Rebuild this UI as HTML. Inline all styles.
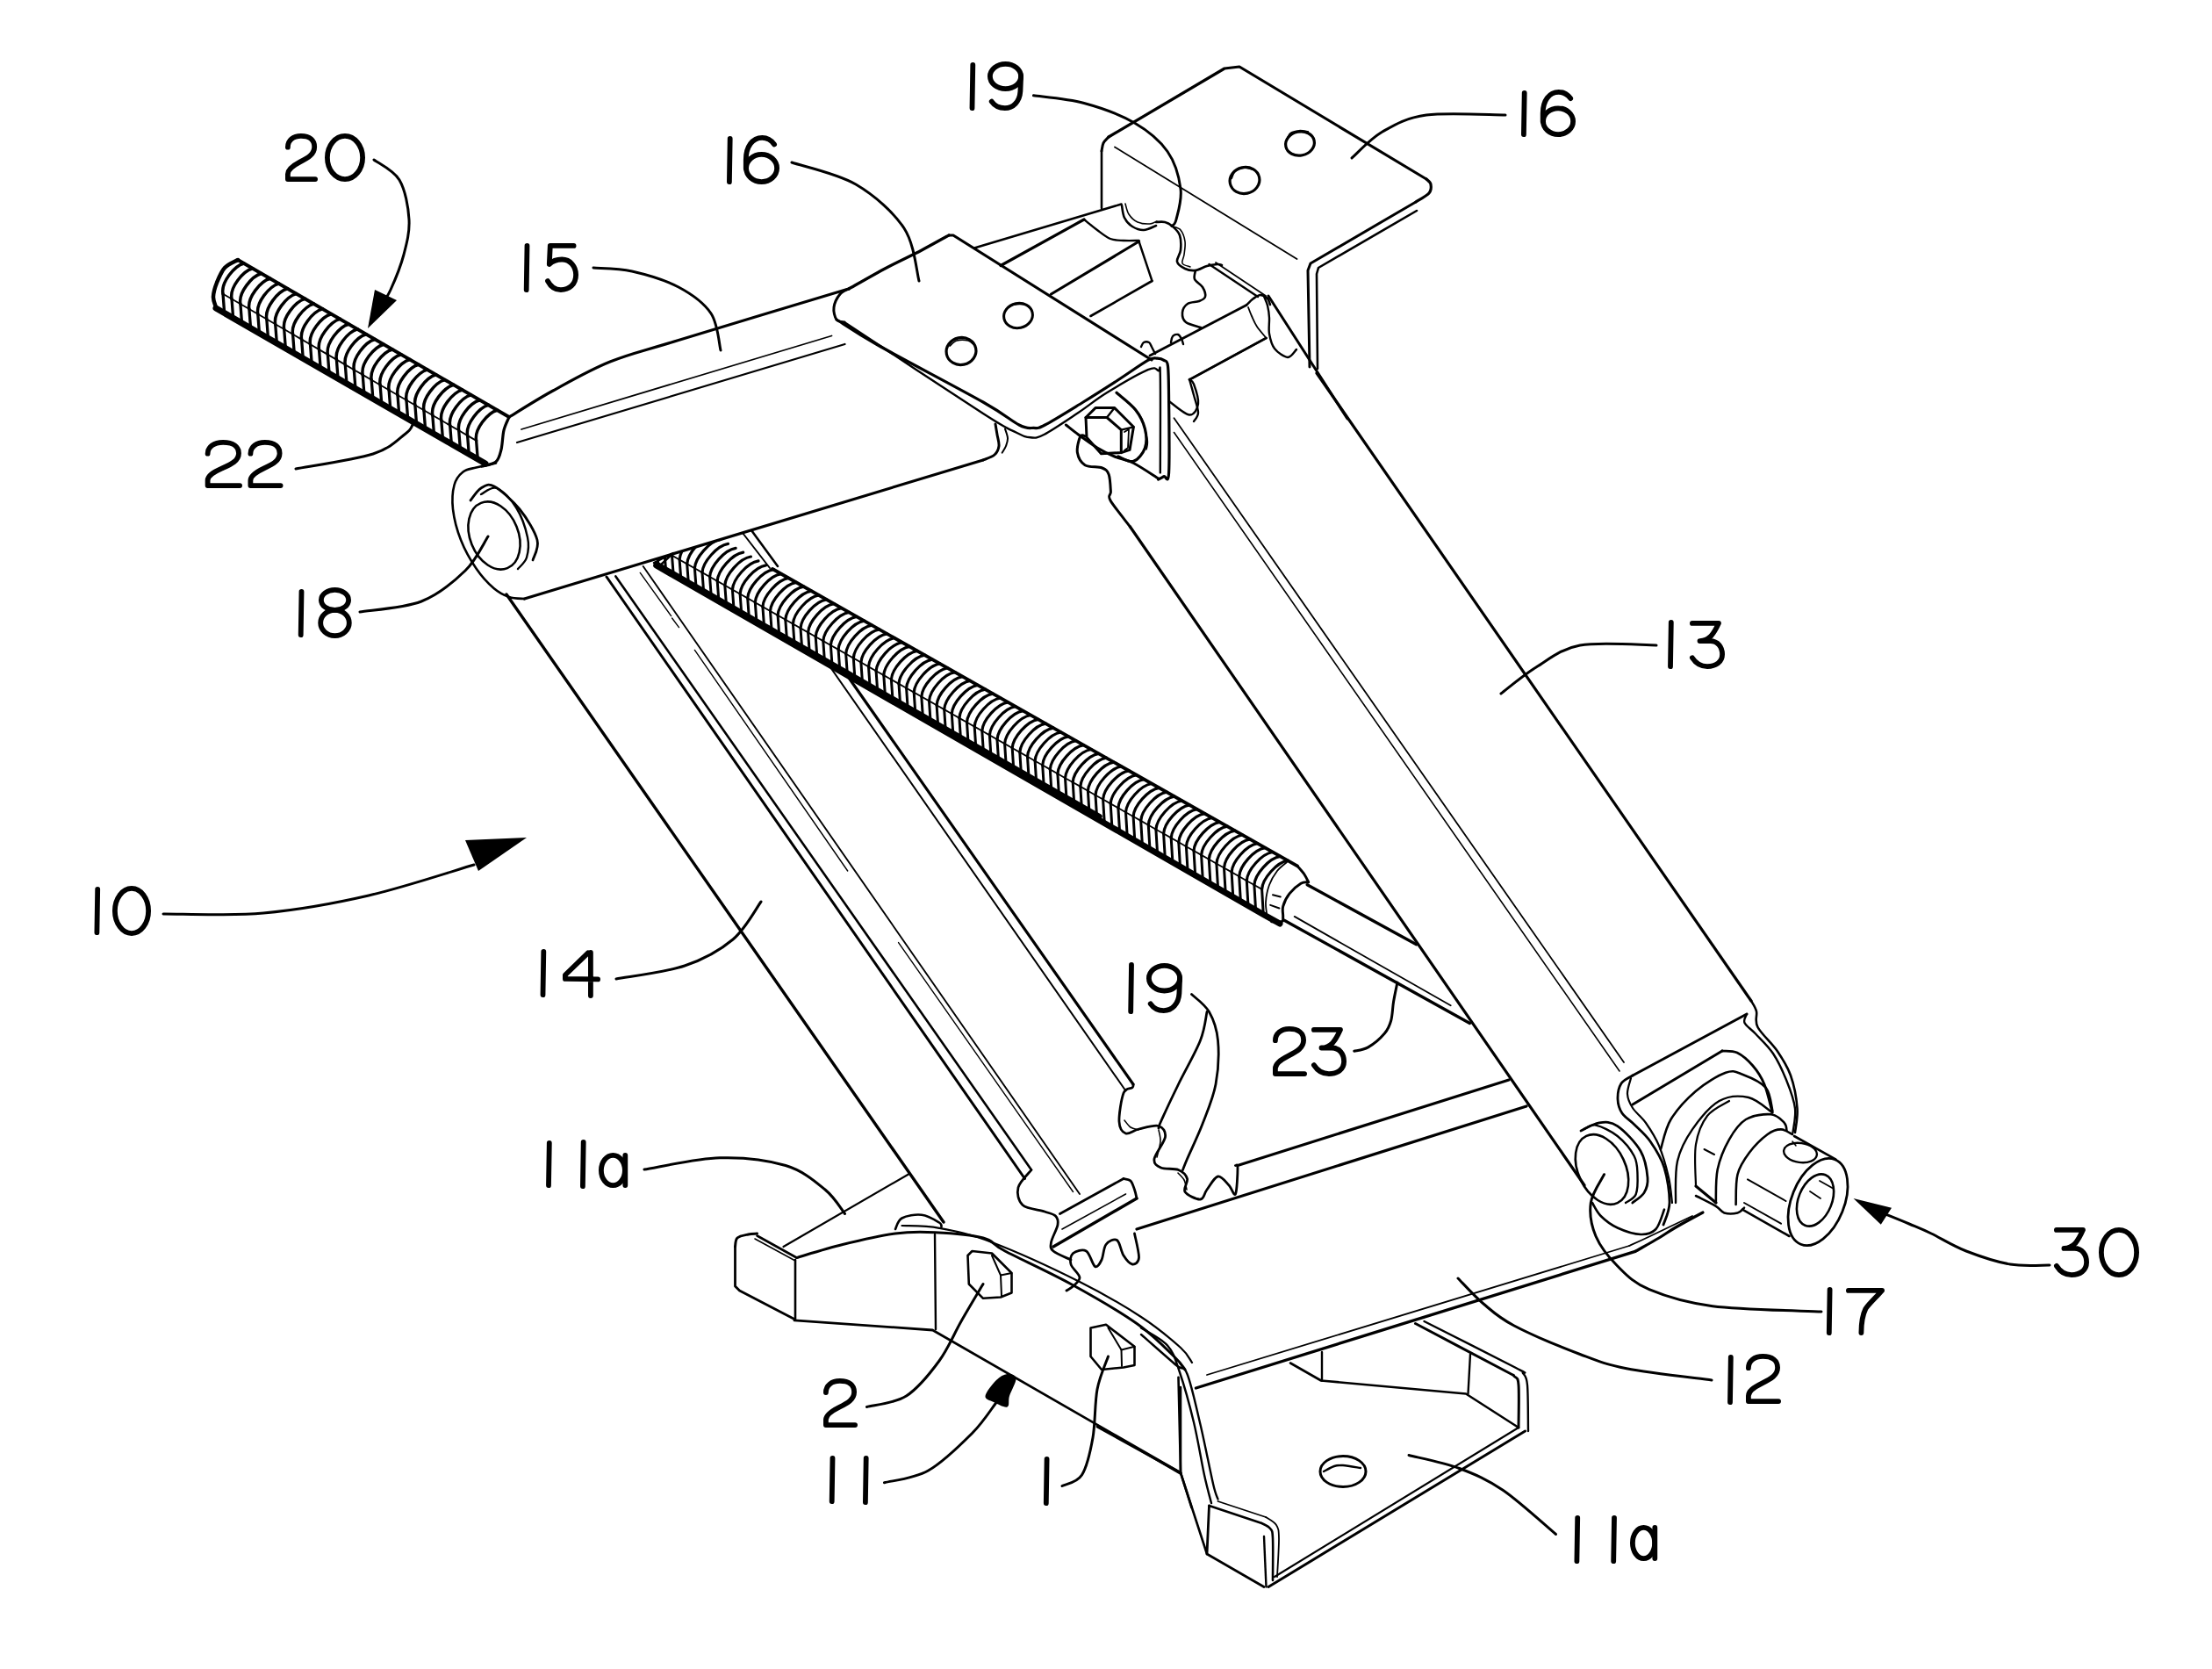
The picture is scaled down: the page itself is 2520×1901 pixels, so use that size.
<!DOCTYPE html>
<html><head><meta charset="utf-8"><style>
html,body{margin:0;padding:0;background:#fff;overflow:hidden}
svg{display:block}
</style></head><body>
<svg xmlns="http://www.w3.org/2000/svg" width="2520" height="1901" viewBox="0 0 2520 1901">
<rect width="2520" height="1901" fill="#fff"/>
<g fill="none" stroke="#000" stroke-linecap="round" stroke-linejoin="round">
<path d="M 327.9,167.7 C 327.9,159.8 334.1,154.9 342.9,154.9 C 352.9,154.9 358.2,159.8 358.2,167.2 C 358.2,175.6 351.3,179.5 341.9,184.4 C 332.6,189.3 327.9,193.3 327.9,198.2 L 327.9,204.1 L 359.1,204.1" stroke-width="5.8"/>
<ellipse cx="393" cy="179.5" rx="20.1" ry="24.6" stroke-width="5.8"/>
<path d="M831.7,157.9 L830.9,207.1" stroke-width="5.8"/>
<path d="M 882.1,164.4 C 878.4,159.4 873.9,156.9 868.4,156.9 C 857.2,156.9 849.8,166.9 849.8,182 L 849.8,192" stroke-width="5.8"/>
<ellipse cx="867.6" cy="191.5" rx="17.5" ry="15.6" stroke-width="5.8"/>
<path d="M600.5,279.9 L599.7,330.1" stroke-width="5.8"/>
<path d="M 653.6,279.9 L 626.8,279.9 L 625.8,301 C 629.6,297 634.3,295.5 640.2,295.5 C 649.9,295.5 656.1,304 656.1,313 C 656.1,324.1 648.3,330.1 638.9,330.1 C 632.7,330.1 627.4,326.6 624,320.1" stroke-width="5.8"/>
<path d="M 236.6,516.7 C 236.6,508.8 243.9,503.9 254.1,503.9 C 265.8,503.9 272,508.8 272,516.2 C 272,524.6 264,528.5 253,533.4 C 242.1,538.3 236.6,542.3 236.6,547.2 L 236.6,553.1 L 273.1,553.1" stroke-width="5.8"/>
<path d="M 285.4,516.7 C 285.4,508.8 292.2,503.9 301.8,503.9 C 312.8,503.9 318.6,508.8 318.6,516.2 C 318.6,524.6 311.1,528.5 300.8,533.4 C 290.5,538.3 285.4,542.3 285.4,547.2 L 285.4,553.1 L 319.6,553.1" stroke-width="5.8"/>
<path d="M343.5,673.9 L342.7,723.1" stroke-width="5.8"/>
<ellipse cx="381.5" cy="683.4" rx="15.6" ry="11.5" stroke-width="5.8"/>
<ellipse cx="381.5" cy="709.5" rx="16.3" ry="14.6" stroke-width="5.8"/>
<path d="M1108.3,73.9 L1107.5,123.1" stroke-width="5.8"/>
<path d="M 1163.1,87 L 1162.4,104 C 1161.7,115.6 1154.3,123.1 1144.8,123.1 C 1138.5,123.1 1133.2,120.6 1129.7,115.6" stroke-width="5.8"/>
<ellipse cx="1145.5" cy="87" rx="17.6" ry="14.1" stroke-width="5.8"/>
<path d="M1736.7,105.9 L1735.9,153.1" stroke-width="5.8"/>
<path d="M 1789.2,112.1 C 1785.6,107.3 1781.2,104.9 1775.8,104.9 C 1765,104.9 1757.7,114.5 1757.7,129 L 1757.7,138.6" stroke-width="5.8"/>
<ellipse cx="1775.1" cy="138.2" rx="17" ry="14.9" stroke-width="5.8"/>
<path d="M1903.8,708.9 L1903,759.1" stroke-width="5.8"/>
<path d="M 1927.9,709.9 L 1958,709.9 C 1955.3,715.8 1952.5,720.7 1949.1,724.7 C 1945,728.6 1940.9,730.1 1936.5,730.1 L 1948.4,730.1 C 1957,730.1 1962.1,737 1962.1,745.3 C 1962.1,754.2 1954.6,759.1 1945,759.1 C 1938.2,759.1 1932,755.7 1927.9,749.3" stroke-width="5.8"/>
<path d="M111.2,1012.9 L110.4,1062.1" stroke-width="5.8"/>
<ellipse cx="150" cy="1037.5" rx="19.1" ry="25.6" stroke-width="5.8"/>
<path d="M619.3,1083.9 L618.5,1133.1" stroke-width="5.8"/>
<path d="M 672.9,1084.9 L 672.9,1134.1 M 669.9,1085.4 L 643.9,1110.5 L 643.9,1114.9 L 681.1,1115.4" stroke-width="5.8"/>
<path d="M625.8,1301.9 L625,1350.1" stroke-width="5.8"/>
<path d="M664.7,1300.9 L663.9,1351.1" stroke-width="5.8"/>
<path d="M 712.3,1315.9 L 712.3,1350.1" stroke-width="5.8"/>
<ellipse cx="698.4" cy="1333" rx="13.5" ry="17.1" stroke-width="5.8"/>
<path d="M1289,1098.9 L1288.2,1152.1" stroke-width="5.8"/>
<path d="M 1344.1,1114.2 L 1343.4,1131.6 C 1342.7,1143.4 1335.3,1151.1 1325.8,1151.1 C 1319.5,1151.1 1314.2,1148.5 1310.7,1143.4" stroke-width="5.8"/>
<ellipse cx="1326.5" cy="1114.2" rx="17.6" ry="14.3" stroke-width="5.8"/>
<path d="M 1452.9,1185.2 C 1452.9,1177 1459.5,1171.9 1468.8,1171.9 C 1479.5,1171.9 1485.1,1177 1485.1,1184.7 C 1485.1,1193.4 1477.8,1197.5 1467.8,1202.6 C 1457.9,1207.7 1452.9,1211.8 1452.9,1217 L 1452.9,1223.1 L 1486.1,1223.1" stroke-width="5.8"/>
<path d="M 1496.9,1172.9 L 1527,1172.9 C 1524.3,1178.9 1521.5,1183.9 1518.1,1188 C 1514,1192 1509.9,1193.5 1505.5,1193.5 L 1517.4,1193.5 C 1526,1193.5 1531.1,1200.5 1531.1,1209 C 1531.1,1218.1 1523.6,1223.1 1514,1223.1 C 1507.2,1223.1 1501,1219.6 1496.9,1213.1" stroke-width="5.8"/>
<path d="M 940.9,1586 C 940.9,1577.9 947.5,1572.9 956.8,1572.9 C 967.5,1572.9 973.1,1577.9 973.1,1585.5 C 973.1,1594 965.8,1598 955.8,1603 C 945.9,1608 940.9,1612.1 940.9,1617.1 L 940.9,1623.1 L 974.1,1623.1" stroke-width="5.8"/>
<path d="M948.5,1660.9 L947.7,1710.1" stroke-width="5.8"/>
<path d="M986.7,1660.9 L985.9,1711.1" stroke-width="5.8"/>
<path d="M1192.6,1661.9 L1191.8,1712.1" stroke-width="5.8"/>
<path d="M1797.2,1728.9 L1796.4,1778.1" stroke-width="5.8"/>
<path d="M1839,1728.9 L1838.2,1778.1" stroke-width="5.8"/>
<path d="M 1885.3,1739.9 L 1885.3,1775.1" stroke-width="5.8"/>
<ellipse cx="1872.5" cy="1757.5" rx="12.6" ry="17.6" stroke-width="5.8"/>
<path d="M1971.8,1545.9 L1971,1597.1" stroke-width="5.8"/>
<path d="M 1991.9,1558.2 C 1991.9,1550 1998.7,1544.9 2008.3,1544.9 C 2019.3,1544.9 2025.1,1550 2025.1,1557.7 C 2025.1,1566.4 2017.5,1570.5 2007.3,1575.6 C 1997,1580.7 1991.9,1584.8 1991.9,1590 L 1991.9,1596.1 L 2026.1,1596.1" stroke-width="5.8"/>
<path d="M2084.6,1468.9 L2083.8,1518.1" stroke-width="5.8"/>
<path d="M 2105.9,1469.9 L 2144.1,1469.9 C 2138.4,1476.6 2130.3,1483.9 2125.4,1490.6 C 2121.6,1498.3 2120.4,1507.5 2120.4,1518.1" stroke-width="5.8"/>
<path d="M 2342.9,1400.9 L 2373,1400.9 C 2370.3,1407 2367.5,1412.2 2364.1,1416.3 C 2360,1420.4 2355.9,1421.9 2351.4,1421.9 L 2363.4,1421.9 C 2372,1421.9 2377.1,1429.1 2377.1,1437.8 C 2377.1,1447 2369.6,1452.1 2360,1452.1 C 2353.2,1452.1 2347,1448.5 2342.9,1441.9" stroke-width="5.8"/>
<ellipse cx="2414" cy="1426.5" rx="20.1" ry="25.6" stroke-width="5.8"/>
<path d="M277.9,300 C267,302.9 251.5,321.7 254,334.7 M287.9,305.8 C276.9,308.7 261.4,327.4 264,340.5 M297.8,311.5 C286.9,314.5 271.4,333.2 273.9,346.2 M307.8,317.3 C296.8,320.2 281.4,339 283.9,352 M317.7,323.1 C306.8,326 291.3,344.7 293.8,357.8 M327.7,328.8 C316.7,331.7 301.3,350.5 303.8,363.5 M337.6,334.6 C326.7,337.5 311.2,356.3 313.7,369.3 M347.6,340.4 C336.6,343.3 321.2,362 323.7,375 M357.5,346.1 C346.6,349 331.1,367.8 333.6,380.8 M367.5,351.9 C356.5,354.8 341.1,373.6 343.6,386.6 M377.4,357.7 C366.5,360.6 351,379.3 353.5,392.3 M387.4,363.4 C376.5,366.3 361,385.1 363.5,398.1 M397.3,369.2 C386.4,372.1 370.9,390.9 373.4,403.9 M407.3,374.9 C396.4,377.9 380.9,396.6 383.4,409.6 M417.2,380.7 C406.3,383.6 390.8,402.4 393.3,415.4 M427.2,386.5 C416.3,389.4 400.8,408.2 403.3,421.2 M437.1,392.2 C426.2,395.2 410.7,413.9 413.2,426.9 M447.1,398 C436.2,400.9 420.7,419.7 423.2,432.7 M457,403.8 C446.1,406.7 430.6,425.4 433.1,438.5 M467,409.5 C456.1,412.4 440.6,431.2 443.1,444.2 M476.9,415.3 C466,418.2 450.5,437 453,450 M486.9,421.1 C476,424 460.5,442.7 463,455.8 M496.8,426.8 C485.9,429.7 470.4,448.5 472.9,461.5 M506.8,432.6 C495.9,435.5 480.4,454.3 482.9,467.3 M516.7,438.4 C505.8,441.3 490.3,460 492.8,473 M526.7,444.1 C515.8,447 500.3,465.8 502.8,478.8 M536.6,449.9 C525.7,452.8 510.2,471.6 512.7,484.6 M546.6,455.7 C535.7,458.6 520.2,477.3 522.7,490.3 M556.5,461.4 C545.6,464.3 530.1,483.1 532.6,496.1 M566.5,467.2 C555.6,470.1 540.1,488.9 542.6,501.9 " stroke-width="3.5"/>
<path d="M254,334.7 L255.5,354.6 M264,340.5 L265.5,360.4 M273.9,346.2 L275.4,366.1 M283.9,352 L285.4,371.8 M293.8,357.8 L295.3,377.6 M303.8,363.5 L305.3,383.3 M313.7,369.3 L315.2,389 M323.7,375 L325.2,394.8 M333.6,380.8 L335.1,400.5 M343.6,386.6 L345.1,406.3 M353.5,392.3 L355,412 M363.5,398.1 L365,417.7 M373.4,403.9 L374.9,423.5 M383.4,409.6 L384.9,429.2 M393.3,415.4 L394.8,434.9 M403.3,421.2 L404.8,440.7 M413.2,426.9 L414.7,446.4 M423.2,432.7 L424.7,452.2 M433.1,438.5 L434.6,457.9 M443.1,444.2 L444.6,463.6 M453,450 L454.5,469.4 M463,455.8 L464.5,475.1 M472.9,461.5 L474.4,480.8 M482.9,467.3 L484.4,486.6 M492.8,473 L494.3,492.3 M502.8,478.8 L504.3,498.1 M512.7,484.6 L514.2,503.8 M522.7,490.3 L524.2,509.5 M532.6,496.1 L534.1,515.3 M542.6,501.9 L544.1,521 " stroke-width="3.3"/>
<path d="M254,334.7 L264,340.5 M264,340.5 L273.9,346.2 M273.9,346.2 L283.9,352 M283.9,352 L293.8,357.8 M293.8,357.8 L303.8,363.5 M303.8,363.5 L313.7,369.3 M313.7,369.3 L323.7,375 M323.7,375 L333.6,380.8 M333.6,380.8 L343.6,386.6 M343.6,386.6 L353.5,392.3 M353.5,392.3 L363.5,398.1 M363.5,398.1 L373.4,403.9 M373.4,403.9 L383.4,409.6 M383.4,409.6 L393.3,415.4 M393.3,415.4 L403.3,421.2 M403.3,421.2 L413.2,426.9 M413.2,426.9 L423.2,432.7 M423.2,432.7 L433.1,438.5 M433.1,438.5 L443.1,444.2 M443.1,444.2 L453,450 M453,450 L463,455.8 M463,455.8 L472.9,461.5 M472.9,461.5 L482.9,467.3 M482.9,467.3 L492.8,473 M492.8,473 L502.8,478.8 M502.8,478.8 L512.7,484.6 M512.7,484.6 L522.7,490.3 M522.7,490.3 L532.6,496.1 M532.6,496.1 L542.6,501.9 " stroke-width="1.8"/>
<path d="M271,296 L580,475" stroke-width="3.8"/>
<path d="M246,351 L553,528" stroke-width="7"/>
<path d="M271,296 C268.5,297.5 260,300.7 256,305 C252,309.3 249.2,316.5 247,322 C244.8,327.5 243.2,333.3 243,338 C242.8,342.7 245.5,348 246,350" stroke-width="4.5"/>
<path d="M580,475 C579,477.5 575.5,483.8 574,490 C572.5,496.2 572.5,506 571,512 C569.5,518 568.7,522.8 565,526 C561.3,529.2 551.7,530.2 549,531" stroke-width="3.2"/>
<path d="M580,475 C588.3,470 610.8,455.5 630,445 C649.2,434.5 671.2,421.6 695,412 C718.8,402.4 727.6,401.4 773,387.5 C818.4,373.6 935.1,338.5 967.5,328.8" stroke-width="3.2"/>
<path d="M594,489 L947.5,382.5" stroke-width="1.8"/>
<path d="M589,504 L962.5,392" stroke-width="2.2"/>
<path d="M565,527.5 C561.2,528.3 548.8,530.8 542.5,532.5 C536.2,534.2 531.7,534.2 527.5,537.5 C523.3,540.8 519.4,545.4 517.5,552.5 C515.6,559.6 514.8,569.6 516,580 C517.2,590.4 520.6,603.8 525,615 C529.4,626.2 536.2,638.3 542.5,647.5 C548.8,656.7 556.2,664.6 562.5,670 C568.8,675.4 574.2,678 580,680 C585.8,682 594.6,681.7 597.5,682" stroke-width="2.6"/>
<path d="M597.5,682 L1120,524" stroke-width="3.2"/>
<path d="M1120,524 C1122.2,523 1130,520.7 1133,518 C1136,515.3 1137.5,511.8 1138,508 C1138.5,504.2 1136.7,499.2 1136,495 C1135.3,490.8 1134.3,485 1134,483" stroke-width="3"/>
<path d="M1145,488.5 C1145.5,490.2 1147.8,495.8 1148,499 C1148.2,502.2 1147,505.2 1146,508 C1145,510.8 1142.4,514.3 1141.7,515.6" stroke-width="2"/>
<ellipse cx="563" cy="610" rx="27.5" ry="40" transform="rotate(-22 563 610)" stroke-width="2.6"/>
<path d="M548,563 C551,561.8 559.3,553.5 566,556 C572.7,558.5 582.2,568.7 588,578 C593.8,587.3 599,602.5 601,612 C603,621.5 601.8,629 600,635 C598.2,641 591.7,645.8 590,648" stroke-width="2.4"/>
<path d="M536,570 C538,567.7 543.5,558.7 548,556 C552.5,553.3 555.7,550 563,554 C570.3,558 583.8,569.8 592,580 C600.2,590.2 609.5,605.3 612,615 C614.5,624.7 607.8,634.2 607,638" stroke-width="2.8"/>
<path d="M577,677 L1075,1392" stroke-width="3.4"/>
<path d="M691,657 L1167.5,1342.5" stroke-width="3"/>
<path d="M701.4,656.4 L1175,1332.5" stroke-width="2.6"/>
<path d="M732.7,645 L1230,1360" stroke-width="1.9"/>
<path d="M729.3,652.4 L764.6,701.6" stroke-width="1.4"/>
<path d="M765.6,704 L773.5,714.6" stroke-width="1.4"/>
<path d="M791.4,740.4 L965.7,992" stroke-width="1.4"/>
<path d="M1023.6,1073.6 L1222.5,1357.5" stroke-width="1.4"/>
<path d="M747.7,642 L1253,930" stroke-width="5.5"/>
<path d="M967.5,328.8 C974.6,324.8 996.2,312.3 1010,305 C1023.8,297.7 1038.2,291.2 1050,285 C1061.8,278.8 1075.8,270.8 1081,268" stroke-width="3.4"/>
<path d="M1081,268 L1086,268 L1312,410" stroke-width="3.2"/>
<path d="M967.5,328.8 C965.8,329.8 959.9,331.5 957,335 C954.1,338.5 950.7,345.2 950,350 C949.3,354.8 951,361.2 953,364 C955,366.8 960.5,366.5 962,367" stroke-width="3"/>
<path d="M953,364 C960.8,368.8 972.2,377.3 1000,393 C1027.8,408.7 1093.2,442.8 1120,458 C1146.8,473.2 1151.4,479.1 1161,484 C1170.6,488.9 1172.6,487.4 1177.5,487.4 C1182.4,487.4 1181.1,488.9 1190.5,484 C1199.9,479.1 1220.4,466.3 1234,458 C1247.6,449.7 1259.7,441.9 1272,434 C1284.3,426.1 1300,414.7 1307.7,410.4 C1315.5,406.1 1315.5,408.2 1318.5,408.2 C1321.5,408.2 1324,408.9 1326,410.4 C1328,411.9 1329.6,409.4 1330.5,417 C1331.4,424.6 1331.4,435.8 1331.6,456 C1331.8,476.2 1332.5,523.9 1331.6,538.4 C1330.7,552.9 1328,541.4 1326,542.7 C1324,544 1320.7,545.5 1319.6,546" stroke-width="3.2"/>
<path d="M962,367 C988.3,384.3 1087.3,450 1120,471 C1152.7,492 1149,488.2 1158,492.8 C1167,497.4 1168.8,497.9 1174,498.3 C1179.2,498.7 1180.3,499.7 1189.4,495 C1198.5,490.3 1216.6,477.9 1228.5,470 C1240.4,462.1 1247.8,455.4 1261,447.3 C1274.2,439.2 1297.9,425.4 1307.7,421.2 C1317.5,417 1317.2,421 1319.6,422.3 C1321.9,423.6 1321.4,409.5 1321.8,428.8 C1322.2,448.1 1321.8,520.1 1321.8,538.4" stroke-width="2.4"/>
<path d="M1214.4,484 C1216.8,485.8 1222.6,490.7 1228.5,495 C1234.4,499.3 1243.1,505.8 1250,510 C1256.9,514.2 1262.8,517.1 1269.7,520 C1276.6,522.9 1283.1,523.3 1291.4,527.5 C1299.7,531.7 1314.9,542.1 1319.6,545" stroke-width="3"/>
<ellipse cx="1160" cy="359.5" rx="16.5" ry="14" transform="rotate(-12 1160 359.5)" stroke-width="3"/>
<path d="M1147,352 C1148.3,351.2 1151.5,347.8 1155,347 C1158.5,346.2 1164.7,346.2 1168,347 C1171.3,347.8 1173.8,351.2 1175,352" stroke-width="1.8"/>
<ellipse cx="1095" cy="400" rx="17" ry="15.5" transform="rotate(-12 1095 400)" stroke-width="3.2"/>
<path d="M1082,394 C1083.3,393 1086.5,389 1090,388 C1093.5,387 1099.7,387.2 1103,388 C1106.3,388.8 1108.8,392.2 1110,393" stroke-width="1.8"/>
<path d="M1255,172 C1255.3,170.5 1255.7,165.7 1257,163 C1258.3,160.3 1262,157.2 1263,156" stroke-width="3"/>
<path d="M1263,156 L1395,78 L1412,76 L1625,204" stroke-width="3.2"/>
<path d="M1625,204 C1625.8,205 1629.5,207.3 1630,210 C1630.5,212.7 1630.8,216.7 1628,220 C1625.2,223.3 1615.5,228.3 1613,230" stroke-width="3.2"/>
<path d="M1270,167.5 L1477.5,295" stroke-width="1.8"/>
<path d="M1255,172 L1255,237" stroke-width="2.6"/>
<path d="M1613,230 L1493,300 L1490,308 L1492,418" stroke-width="3"/>
<path d="M1614,240 L1502,305 L1500,312 L1501,420" stroke-width="2.6"/>
<ellipse cx="1481" cy="163.5" rx="16.5" ry="13.5" transform="rotate(-12 1481 163.5)" stroke-width="3.2"/>
<path d="M1466,160 C1466.7,158.7 1467.7,153.8 1470,152 C1472.3,150.2 1476.7,149.3 1480,149 C1483.3,148.7 1488.3,149.8 1490,150" stroke-width="2.2"/>
<ellipse cx="1418" cy="205.5" rx="17" ry="15" transform="rotate(-12 1418 205.5)" stroke-width="3.2"/>
<path d="M1403,203 C1403.7,201.7 1404.7,197 1407,195 C1409.3,193 1413.5,191.3 1417,191 C1420.5,190.7 1426.2,192.7 1428,193" stroke-width="2.2"/>
<path d="M1278,234 C1278.5,236.3 1279,244 1281,248 C1283,252 1286.3,255.7 1290,258 C1293.7,260.3 1298.5,262.2 1303,262 C1307.5,261.8 1314.7,257.8 1317,257" stroke-width="2.6"/>
<path d="M1282,232 C1282.7,234 1283.7,240.5 1286,244 C1288.3,247.5 1292,251.2 1296,253 C1300,254.8 1306.3,255.2 1310,255 C1313.7,254.8 1316.7,252.5 1318,252" stroke-width="1.6"/>
<path d="M1317,253 C1318.7,253 1323.8,252.2 1327,253 C1330.2,253.8 1333.2,255.5 1336,258 C1338.8,260.5 1342.5,263.5 1344,268 C1345.5,272.5 1345.5,280 1345,285 C1344.5,290 1340.2,294.5 1341,298 C1341.8,301.5 1346.5,304.3 1350,306 C1353.5,307.7 1357.8,308.5 1362,308 C1366.2,307.5 1370.8,304.2 1375,303 C1379.2,301.8 1384.2,301.2 1387,301 C1389.8,300.8 1391.2,301.8 1392,302" stroke-width="2.6"/>
<path d="M1336,258 C1337.5,258.7 1342.7,259.2 1345,262 C1347.3,264.8 1349.3,270.3 1350,275 C1350.7,279.7 1349.5,285.8 1349,290 C1348.5,294.2 1345.8,297.7 1347,300 C1348.2,302.3 1354.5,303.3 1356,304" stroke-width="1.6"/>
<path d="M1362,308 C1361.8,309.7 1359.7,314.8 1361,318 C1362.3,321.2 1368,323.7 1370,327 C1372,330.3 1373.7,335.3 1373,338 C1372.3,340.7 1369.3,341.7 1366,343 C1362.7,344.3 1356.2,343.8 1353,346 C1349.8,348.2 1347.3,352.5 1347,356 C1346.7,359.5 1347.5,364.2 1351,367 C1354.5,369.8 1365.2,372 1368,373" stroke-width="2.6"/>
<path d="M1310,405 L1420,347.5" stroke-width="2.8"/>
<path d="M1355,432.5 L1442.5,385" stroke-width="2.6"/>
<path d="M1420,347.5 C1421.3,346.2 1425.3,341.9 1428,340 C1430.7,338.1 1433.3,336 1436,336 C1438.7,336 1442.2,338.2 1444,340 C1445.8,341.8 1446.5,345.8 1447,347" stroke-width="2.6"/>
<path d="M1442.5,385 C1440.8,382.8 1434.8,376.2 1432,372 C1429.2,367.8 1427.7,363.7 1426,360 C1424.3,356.3 1422.7,351.7 1422,350" stroke-width="1.8"/>
<path d="M1377.5,301 L1433,338" stroke-width="2.4"/>
<path d="M1385,299 L1442,337" stroke-width="1.8"/>
<path d="M1300,395 C1300.5,394.2 1301.5,390.8 1303,390 C1304.5,389.2 1307.5,389.2 1309,390 C1310.5,390.8 1310.8,392.8 1312,395 C1313.2,397.2 1315.3,401.7 1316,403" stroke-width="2.4"/>
<path d="M1334,390 C1334.3,388.8 1334.7,384.5 1336,383 C1337.3,381.5 1340.3,380.5 1342,381 C1343.7,381.5 1345,384.2 1346,386 C1347,387.8 1347.7,391 1348,392" stroke-width="2.4"/>
<path d="M1110,282.5 L1277.5,232.5" stroke-width="2.6"/>
<path d="M1140,302.5 L1235,250" stroke-width="3.2"/>
<path d="M1235,250 C1237.5,252 1245,258.3 1250,262 C1255,265.7 1260,270 1265,272 C1270,274 1274.6,273.7 1280,274 C1285.4,274.3 1294.6,274 1297.5,274" stroke-width="2.4"/>
<path d="M1197.5,335 L1297.5,275" stroke-width="3.2"/>
<path d="M1297.5,275 L1312.5,320" stroke-width="2.4"/>
<path d="M1242.5,360 L1312.5,320" stroke-width="2.6"/>
<path d="M1440,337.5 C1440.7,339.2 1443,343.9 1444,348 C1445,352.1 1445.7,356.7 1446,362 C1446.3,367.3 1445,374.2 1446,380 C1447,385.8 1448.5,392.5 1452,397 C1455.5,401.5 1462.8,406.8 1467,407 C1471.2,407.2 1475.3,399.5 1477,398" stroke-width="2.4"/>
<path d="M1445,337 L1535,477" stroke-width="3"/>
<path d="M1355,432 C1355.8,435 1358.3,443.7 1360,450 C1361.7,456.3 1365,465 1365,470 C1365,475 1360.8,478.3 1360,480" stroke-width="2.4"/>
<path d="M1177.5,108.8 C1187.1,110.2 1215.8,112.3 1235,117.5 C1254.2,122.7 1276.7,130.8 1292.5,140 C1308.3,149.2 1321.2,160 1330,172.5 C1338.8,185 1343.3,202.1 1345,215 C1346.7,227.9 1341.7,242.9 1340,250 C1338.3,257.1 1335.8,256.2 1335,257.5" stroke-width="3"/>
<path d="M1715,131 C1700,131 1648.3,127.8 1625,131 C1601.7,134.2 1589.2,141.8 1575,150 C1560.8,158.2 1545.8,175 1540,180" stroke-width="3"/>
<path d="M1237,475.5 L1238,498.3 L1254.5,516.7 L1277.3,515.6 L1277.3,489.6 L1261,475.5 L1237,475.5" stroke-width="3"/>
<path d="M1237,475.5 L1248,464.6 L1269.7,464.6 L1291.4,486.3 L1287,512.4 L1277.3,515.6" stroke-width="3"/>
<path d="M1261,475.5 L1269.7,464.6" stroke-width="2.4"/>
<path d="M1277.3,489.6 L1291.4,486.3" stroke-width="2.4"/>
<path d="M1281,492 L1286,489 L1285,510 L1281,513" stroke-width="1.8"/>
<path d="M1272,447.3 C1275.6,450.6 1288.2,459.9 1293.6,466.8 C1299,473.7 1302.6,481.3 1304.4,488.5 C1306.2,495.7 1306.6,504.1 1304.4,510.2 C1302.2,516.4 1296.5,523.8 1291.4,525.4 C1286.3,527 1276.9,520.9 1274,520" stroke-width="3.2"/>
<path d="M1274,449 C1278,452.8 1292.5,463.5 1298,472 C1303.5,480.5 1305.7,493.3 1307,500 C1308.3,506.7 1306.2,510 1306,512" stroke-width="1.6"/>
<path d="M1237,497 C1236,497 1232.3,494.1 1230.7,497.2 C1229.1,500.3 1226.5,510.2 1227.4,515.6 C1228.3,521 1231.3,526.8 1236,529.7 C1240.7,532.6 1251.1,531.2 1255.6,533 C1260.1,534.8 1261.6,536.1 1263.2,540.6 C1264.8,545.1 1265.1,555.1 1265.4,560 C1265.7,564.9 1261.3,563.3 1265,570 C1268.7,576.7 1283.8,595 1287.5,600" stroke-width="3"/>
<path d="M1287.5,600 L1805,1350" stroke-width="3.2"/>
<path d="M1442.5,385 L1355,432.5" stroke-width="2.4"/>
<path d="M1355,432.5 C1355.8,433.3 1358.3,432.9 1360,437.5 C1361.7,442.1 1365.8,454.2 1365,460 C1364.2,465.8 1360.4,472.9 1355,472.5 C1349.6,472.1 1336.2,460 1332.5,457.5" stroke-width="2.4"/>
<path d="M1500,425 L1995,1140" stroke-width="3.2"/>
<path d="M1995,1140 C1996,1142 1999.8,1147 2001,1152 C2002.2,1157 1998.5,1162.4 2002.5,1170 C2006.5,1177.6 2018.8,1188.3 2025,1197.5 C2031.2,1206.7 2036.2,1214.2 2040,1225 C2043.8,1235.8 2046.7,1251.7 2047.5,1262.5 C2048.3,1273.3 2045.4,1285.4 2045,1290" stroke-width="2.6"/>
<path d="M1990,1155 C1989.6,1156.7 1985.8,1161.2 1987.5,1165 C1989.2,1168.8 1994.6,1171.7 2000,1177.5 C2005.4,1183.3 2014.2,1191.2 2020,1200 C2025.8,1208.8 2030.8,1219.6 2035,1230 C2039.2,1240.4 2043.8,1252.5 2045,1262.5 C2046.2,1272.5 2042.9,1285.4 2042.5,1290" stroke-width="2.4"/>
<path d="M1337.5,476.2 L1850,1210" stroke-width="1.8"/>
<path d="M1337.5,492.5 L1845,1220" stroke-width="1.6"/>
<path d="M1990,1155 L1860,1225" stroke-width="3"/>
<path d="M1860,1225 C1857.8,1226.5 1849.8,1229.5 1847,1234 C1844.2,1238.5 1842.8,1246.3 1843,1252 C1843.2,1257.7 1844.8,1263.2 1848,1268 C1851.2,1272.8 1856.7,1275.7 1862,1281 C1867.3,1286.3 1874.3,1291.8 1880,1300 C1885.7,1308.2 1892.3,1318.3 1896,1330 C1899.7,1341.7 1902.2,1359.2 1902,1370 C1901.8,1380.8 1896.2,1390.8 1895,1395" stroke-width="2.8"/>
<path d="M1858,1228 C1857.3,1231 1853.7,1240.3 1854,1246 C1854.3,1251.7 1856.5,1256.5 1860,1262 C1863.5,1267.5 1870,1271.8 1875,1279 C1880,1286.2 1885.7,1294.7 1890,1305 C1894.3,1315.3 1898.5,1330.2 1901,1341 C1903.5,1351.8 1904.3,1365.2 1905,1370" stroke-width="2.2"/>
<path d="M1860,1258 L1962,1197" stroke-width="3"/>
<path d="M1962,1197 C1964.8,1197.3 1973.2,1196.2 1979,1199 C1984.8,1201.8 1991.8,1208 1997,1214 C2002.2,1220 2006.3,1226.2 2010,1235 C2013.7,1243.8 2017.5,1261.7 2019,1267" stroke-width="2.8"/>
<ellipse cx="1825" cy="1332" rx="27" ry="42" transform="rotate(-25 1825 1332)" stroke-width="2.6"/>
<path d="M1804.7,1286 C1806.9,1285.3 1811.7,1280.3 1818,1281.6 C1824.3,1282.9 1835.4,1288.1 1842.7,1294 C1850,1299.9 1857.9,1309.5 1861.7,1316.8 C1865.5,1324.1 1865.2,1330.4 1865.5,1337.7 C1865.8,1345 1865.8,1355.1 1863.6,1360.5 C1861.3,1365.9 1853.9,1368.4 1852,1370" stroke-width="2.4"/>
<path d="M1801,1288 C1804.5,1286.5 1814.8,1279.7 1821.8,1278.8 C1828.8,1277.9 1834.8,1277.2 1842.7,1282.6 C1850.6,1288 1863.3,1301.2 1869,1311 C1874.7,1320.8 1876.3,1333.6 1877,1341.5 C1877.7,1349.4 1875.9,1353.8 1873,1358.6 C1870.1,1363.3 1862,1368.1 1859.8,1370" stroke-width="2.8"/>
<path d="M1814,1370 C1815.6,1372.5 1818.9,1380.2 1823.7,1385 C1828.5,1389.8 1835.1,1395 1842.7,1398.5 C1850.3,1402 1862,1405.8 1869.3,1406 C1876.6,1406.2 1882,1404.7 1886.4,1400 C1890.9,1395.3 1894.4,1381.3 1896,1377.6" stroke-width="2.6"/>
<path d="M1892,1309 C1893.9,1303.3 1896.8,1286 1903.5,1275 C1910.2,1264 1921.6,1251.6 1932,1242.7 C1942.4,1233.8 1957.2,1225 1966,1221.8 C1974.8,1218.6 1977.4,1220.8 1985,1223.7 C1992.6,1226.6 2006.1,1232 2011.8,1239 C2017.5,1246 2018.1,1261.1 2019.4,1265.5" stroke-width="2.6"/>
<path d="M1909,1370 C1909.3,1362.1 1907.8,1336.4 1911,1322.5 C1914.2,1308.6 1920.1,1297.8 1928,1286.4 C1935.9,1275 1947.9,1260.1 1958.6,1254 C1969.3,1247.9 1981.9,1247.8 1992,1250 C2002.1,1252.2 2014.8,1264.5 2019.4,1267.4" stroke-width="2.4"/>
<path d="M1932,1351 C1932,1343.1 1929.8,1316.8 1932,1303.5 C1934.2,1290.2 1938.7,1279.2 1945,1271 C1951.3,1262.8 1965.8,1256.8 1970,1254" stroke-width="2.2"/>
<path d="M1954.8,1370 C1955.1,1363.7 1954.2,1344 1956.7,1332 C1959.2,1320 1964.6,1307.3 1970,1297.8 C1975.4,1288.3 1981.1,1279.8 1989,1275 C1996.9,1270.2 2010.2,1268.7 2017.5,1269.3 C2024.8,1269.9 2029.7,1275.7 2032.7,1278.8 C2035.7,1281.9 2035,1286.5 2035.5,1288" stroke-width="2.6"/>
<path d="M1977.6,1371.9 C1977.9,1366.2 1977,1347.5 1979.5,1337.7 C1982,1327.9 1987.1,1320.6 1992.8,1313 C1998.5,1305.4 2007.7,1296.4 2013.7,1292 C2019.7,1287.6 2024.2,1286.4 2028.9,1286.4 C2033.6,1286.4 2039.8,1291.1 2042,1292" stroke-width="2.6"/>
<path d="M1932,1362 C1935.8,1364 1949.4,1370.6 1954.8,1373.8 C1960.2,1377 1960.2,1380.1 1964.3,1381.4 C1968.4,1382.7 1975.7,1382.4 1979.5,1381.4 C1983.3,1380.5 1985.8,1376.7 1987,1375.7" stroke-width="2.6"/>
<path d="M1932,1351 L1955,1370" stroke-width="3.2"/>
<path d="M2044,1294 L2091.5,1320.6" stroke-width="2.6"/>
<path d="M1985,1377.6 L2038.4,1408" stroke-width="2.6"/>
<ellipse cx="2071" cy="1369" rx="30" ry="52" transform="rotate(22 2071 1369)" stroke-width="2.8"/>
<ellipse cx="2068" cy="1367" rx="19" ry="31" transform="rotate(22 2068 1367)" stroke-width="2.6"/>
<path d="M2073,1345 L2089,1354" stroke-width="1.8"/>
<path d="M2062,1357 L2074,1365" stroke-width="1.8"/>
<ellipse cx="2051" cy="1313" rx="19" ry="11" transform="rotate(8 2051 1313)" stroke-width="2.4"/>
<path d="M1991,1343.4 L2034.5,1368" stroke-width="2"/>
<path d="M1987,1370 L2029,1393.7" stroke-width="2"/>
<path d="M1941.5,1309 L1953,1315" stroke-width="2"/>
<path d="M2042,1300 L2046,1305" stroke-width="1.5"/>
<path d="M1375,1566 L1856,1419" stroke-width="1.8"/>
<path d="M1856,1419 C1860,1417.2 1868,1413.7 1880,1408 C1892,1402.3 1920,1388.8 1928,1385" stroke-width="1.8"/>
<path d="M1362.5,1581 L1863,1425.4" stroke-width="3.4"/>
<path d="M1863,1425.4 C1867.5,1422.8 1882.3,1414.6 1890,1410 C1897.7,1405.4 1900.7,1402.8 1909,1398 C1917.3,1393.2 1934.8,1383.8 1940,1381" stroke-width="3.2"/>
<path d="M2111.5,1365 L2155,1375.7 L2142.8,1394.7 Z" fill="#000" stroke="none"/>
<path d="M2148,1383 C2152.5,1384.8 2166.3,1390.3 2175,1394 C2183.7,1397.7 2189.4,1399.8 2200.2,1405 C2211,1410.2 2225,1419.2 2240,1425 C2255,1430.8 2274.2,1437.3 2290,1440 C2305.8,1442.7 2327.5,1440.8 2335,1441" stroke-width="3"/>
<path d="M1827.5,1337.7 C1825,1343.1 1813.9,1358.3 1812.3,1370 C1810.7,1381.7 1812.9,1396 1818,1408 C1823.1,1420 1832.6,1431.9 1842.7,1442 C1852.8,1452.1 1860.8,1461.1 1878.8,1468.7 C1896.8,1476.3 1918.3,1483.5 1951,1487.7 C1983.7,1491.9 2054.3,1493 2075,1494" stroke-width="3"/>
<path d="M1887,735 C1872.5,735 1822.8,730.8 1800,735 C1777.2,739.2 1765,750.8 1750,760 C1735,769.2 1716.7,785 1710,790" stroke-width="3"/>
<clipPath id="cpH"><path d="M700,651 L1135,520 L1600,520 L1600,1100 L700,1100 Z"/></clipPath>
<g clip-path="url(#cpH)">
<path d="M752,575.5 C739.3,577.6 723.1,596 722.4,608.2 M760.6,580.4 C747.9,582.5 731.8,600.9 731,613.1 M769.2,585.3 C756.6,587.3 740.4,605.8 739.7,618 M777.8,590.2 C765.2,592.2 749,610.6 748.3,622.9 M786.4,595 C773.8,597.1 757.6,615.5 756.9,627.7 M795,599.9 C782.4,602 766.2,620.4 765.5,632.6 M803.7,604.8 C791,606.8 774.8,625.3 774.1,637.5 M812.3,609.7 C799.6,611.7 783.5,630.1 782.7,642.4 M820.9,614.5 C808.2,616.6 792.1,635 791.4,647.2 M829.5,619.4 C816.9,621.5 800.7,639.9 800,652.1 M838.1,624.3 C825.5,626.3 809.3,644.8 808.6,657 M846.7,629.2 C834.1,631.2 817.9,649.6 817.2,661.9 M855.4,634 C842.7,636.1 826.5,654.5 825.8,666.7 M864,638.9 C851.3,641 835.2,659.4 834.4,671.6 M872.6,643.8 C859.9,645.8 843.8,664.3 843.1,676.5 M881.2,648.7 C868.6,650.7 852.4,669.1 851.7,681.4 M889.8,653.6 C877.2,655.6 861,674 860.3,686.2 M898.4,658.4 C885.8,660.5 869.6,678.9 868.9,691.1 M907.1,663.3 C894.4,665.3 878.2,683.8 877.5,696 M915.7,668.2 C903,670.2 886.9,688.6 886.1,700.9 M924.3,673.1 C911.6,675.1 895.5,693.5 894.8,705.8 M932.9,677.9 C920.3,680 904.1,698.4 903.4,710.6 M941.5,682.8 C928.9,684.8 912.7,703.3 912,715.5 M950.1,687.7 C937.5,689.7 921.3,708.1 920.6,720.4 M958.7,692.6 C946.1,694.6 929.9,713 929.2,725.3 M967.4,697.4 C954.7,699.5 938.5,717.9 937.8,730.1 M976,702.3 C963.3,704.3 947.2,722.8 946.4,735 M984.6,707.2 C972,709.2 955.8,727.6 955.1,739.9 M993.2,712.1 C980.6,714.1 964.4,732.5 963.7,744.8 M1001.8,716.9 C989.2,719 973,737.4 972.3,749.6 M1010.4,721.8 C997.8,723.9 981.6,742.3 980.9,754.5 M1019.1,726.7 C1006.4,728.7 990.2,747.2 989.5,759.4 M1027.7,731.6 C1015,733.6 998.9,752 998.1,764.3 M1036.3,736.4 C1023.6,738.5 1007.5,756.9 1006.8,769.1 M1044.9,741.3 C1032.3,743.4 1016.1,761.8 1015.4,774 M1053.5,746.2 C1040.9,748.2 1024.7,766.7 1024,778.9 M1062.1,751.1 C1049.5,753.1 1033.3,771.5 1032.6,783.8 M1070.8,755.9 C1058.1,758 1041.9,776.4 1041.2,788.6 M1079.4,760.8 C1066.7,762.9 1050.6,781.3 1049.8,793.5 M1088,765.7 C1075.3,767.7 1059.2,786.2 1058.5,798.4 M1096.6,770.6 C1084,772.6 1067.8,791 1067.1,803.3 M1105.2,775.4 C1092.6,777.5 1076.4,795.9 1075.7,808.1 M1113.8,780.3 C1101.2,782.4 1085,800.8 1084.3,813 M1122.5,785.2 C1109.8,787.2 1093.6,805.7 1092.9,817.9 M1131.1,790.1 C1118.4,792.1 1102.3,810.5 1101.5,822.8 M1139.7,795 C1127,797 1110.9,815.4 1110.2,827.6 M1148.3,799.8 C1135.7,801.9 1119.5,820.3 1118.8,832.5 M1156.9,804.7 C1144.3,806.7 1128.1,825.2 1127.4,837.4 M1165.5,809.6 C1152.9,811.6 1136.7,830 1136,842.3 M1174.2,814.5 C1161.5,816.5 1145.3,834.9 1144.6,847.1 M1182.8,819.3 C1170.1,821.4 1154,839.8 1153.2,852 M1191.4,824.2 C1178.7,826.2 1162.6,844.7 1161.8,856.9 M1200,829.1 C1187.4,831.1 1171.2,849.5 1170.5,861.8 M1208.6,834 C1196,836 1179.8,854.4 1179.1,866.7 M1217.2,838.8 C1204.6,840.9 1188.4,859.3 1187.7,871.5 M1225.8,843.7 C1213.2,845.7 1197,864.2 1196.3,876.4 M1234.5,848.6 C1221.8,850.6 1205.6,869 1204.9,881.3 M1243.1,853.5 C1230.4,855.5 1214.3,873.9 1213.5,886.2 M1251.7,858.3 C1239.1,860.4 1222.9,878.8 1222.2,891 M1260.3,863.2 C1247.7,865.2 1231.5,883.7 1230.8,895.9 M1268.9,868.1 C1256.3,870.1 1240.1,888.5 1239.4,900.8 M1277.5,873 C1264.9,875 1248.7,893.4 1248,905.7 M1286.2,877.8 C1273.5,879.9 1257.3,898.3 1256.6,910.5 M1294.8,882.7 C1282.1,884.8 1266,903.2 1265.2,915.4 M1303.4,887.6 C1290.7,889.6 1274.6,908.1 1273.9,920.3 M1312,892.5 C1299.4,894.5 1283.2,912.9 1282.5,925.2 M1320.6,897.3 C1308,899.4 1291.8,917.8 1291.1,930 M1329.2,902.2 C1316.6,904.3 1300.4,922.7 1299.7,934.9 M1337.9,907.1 C1325.2,909.1 1309,927.6 1308.3,939.8 M1346.5,912 C1333.8,914 1317.7,932.4 1316.9,944.7 M1355.1,916.8 C1342.4,918.9 1326.3,937.3 1325.6,949.5 M1363.7,921.7 C1351.1,923.8 1334.9,942.2 1334.2,954.4 M1372.3,926.6 C1359.7,928.6 1343.5,947.1 1342.8,959.3 M1380.9,931.5 C1368.3,933.5 1352.1,951.9 1351.4,964.2 M1389.6,936.3 C1376.9,938.4 1360.7,956.8 1360,969 M1398.2,941.2 C1385.5,943.3 1369.4,961.7 1368.6,973.9 M1406.8,946.1 C1394.1,948.1 1378,966.6 1377.3,978.8 M1415.4,951 C1402.8,953 1386.6,971.4 1385.9,983.7 M1424,955.9 C1411.4,957.9 1395.2,976.3 1394.5,988.5 M1432.6,960.7 C1420,962.8 1403.8,981.2 1403.1,993.4 M1441.2,965.6 C1428.6,967.6 1412.4,986.1 1411.7,998.3 M1449.9,970.5 C1437.2,972.5 1421,990.9 1420.3,1003.2 M1458.5,975.4 C1445.8,977.4 1429.7,995.8 1428.9,1008 M1467.1,980.2 C1454.5,982.3 1438.3,1000.7 1437.6,1012.9 " stroke-width="3.2"/>
<path d="M722.4,608.2 L723.9,627.5 M731,613.1 L732.5,632.4 M739.7,618 L741.2,637.4 M748.3,622.9 L749.8,642.3 M756.9,627.7 L758.4,647.3 M765.5,632.6 L767,652.2 M774.1,637.5 L775.6,657.2 M782.7,642.4 L784.2,662.1 M791.4,647.2 L792.9,667.1 M800,652.1 L801.5,672.1 M808.6,657 L810.1,677 M817.2,661.9 L818.7,682 M825.8,666.7 L827.3,686.9 M834.4,671.6 L835.9,691.9 M843.1,676.5 L844.6,696.8 M851.7,681.4 L853.2,701.8 M860.3,686.2 L861.8,706.7 M868.9,691.1 L870.4,711.7 M877.5,696 L879,716.6 M886.1,700.9 L887.6,721.6 M894.8,705.8 L896.3,726.5 M903.4,710.6 L904.9,731.5 M912,715.5 L913.5,736.4 M920.6,720.4 L922.1,741.4 M929.2,725.3 L930.7,746.4 M937.8,730.1 L939.3,751.3 M946.4,735 L947.9,756.3 M955.1,739.9 L956.6,761.2 M963.7,744.8 L965.2,766.2 M972.3,749.6 L973.8,771.1 M980.9,754.5 L982.4,776.1 M989.5,759.4 L991,781 M998.1,764.3 L999.6,786 M1006.8,769.1 L1008.3,790.9 M1015.4,774 L1016.9,795.9 M1024,778.9 L1025.5,800.8 M1032.6,783.8 L1034.1,805.8 M1041.2,788.6 L1042.7,810.7 M1049.8,793.5 L1051.3,815.7 M1058.5,798.4 L1060,820.7 M1067.1,803.3 L1068.6,825.6 M1075.7,808.1 L1077.2,830.6 M1084.3,813 L1085.8,835.5 M1092.9,817.9 L1094.4,840.5 M1101.5,822.8 L1103,845.4 M1110.2,827.6 L1111.7,850.4 M1118.8,832.5 L1120.3,855.3 M1127.4,837.4 L1128.9,860.3 M1136,842.3 L1137.5,865.2 M1144.6,847.1 L1146.1,870.2 M1153.2,852 L1154.7,875.1 M1161.8,856.9 L1163.3,880.1 M1170.5,861.8 L1172,885 M1179.1,866.7 L1180.6,890 M1187.7,871.5 L1189.2,895 M1196.3,876.4 L1197.8,899.9 M1204.9,881.3 L1206.4,904.9 M1213.5,886.2 L1215,909.8 M1222.2,891 L1223.7,914.8 M1230.8,895.9 L1232.3,919.7 M1239.4,900.8 L1240.9,924.7 M1248,905.7 L1249.5,929.6 M1256.6,910.5 L1258.1,934.6 M1265.2,915.4 L1266.7,939.5 M1273.9,920.3 L1275.4,944.5 M1282.5,925.2 L1284,949.4 M1291.1,930 L1292.6,954.4 M1299.7,934.9 L1301.2,959.3 M1308.3,939.8 L1309.8,964.3 M1316.9,944.7 L1318.4,969.3 M1325.6,949.5 L1327.1,974.2 M1334.2,954.4 L1335.7,979.2 M1342.8,959.3 L1344.3,984.1 M1351.4,964.2 L1352.9,989.1 M1360,969 L1361.5,994 M1368.6,973.9 L1370.1,999 M1377.3,978.8 L1378.8,1003.9 M1385.9,983.7 L1387.4,1008.9 M1394.5,988.5 L1396,1013.8 M1403.1,993.4 L1404.6,1018.8 M1411.7,998.3 L1413.2,1023.7 M1420.3,1003.2 L1421.8,1028.7 M1428.9,1008 L1430.4,1033.6 M1437.6,1012.9 L1439.1,1038.6 " stroke-width="3"/>
<path d="M722.4,608.2 L731,613.1 M731,613.1 L739.7,618 M739.7,618 L748.3,622.9 M748.3,622.9 L756.9,627.7 M756.9,627.7 L765.5,632.6 M765.5,632.6 L774.1,637.5 M774.1,637.5 L782.7,642.4 M782.7,642.4 L791.4,647.2 M791.4,647.2 L800,652.1 M800,652.1 L808.6,657 M808.6,657 L817.2,661.9 M817.2,661.9 L825.8,666.7 M825.8,666.7 L834.4,671.6 M834.4,671.6 L843.1,676.5 M843.1,676.5 L851.7,681.4 M851.7,681.4 L860.3,686.2 M860.3,686.2 L868.9,691.1 M868.9,691.1 L877.5,696 M877.5,696 L886.1,700.9 M886.1,700.9 L894.8,705.8 M894.8,705.8 L903.4,710.6 M903.4,710.6 L912,715.5 M912,715.5 L920.6,720.4 M920.6,720.4 L929.2,725.3 M929.2,725.3 L937.8,730.1 M937.8,730.1 L946.4,735 M946.4,735 L955.1,739.9 M955.1,739.9 L963.7,744.8 M963.7,744.8 L972.3,749.6 M972.3,749.6 L980.9,754.5 M980.9,754.5 L989.5,759.4 M989.5,759.4 L998.1,764.3 M998.1,764.3 L1006.8,769.1 M1006.8,769.1 L1015.4,774 M1015.4,774 L1024,778.9 M1024,778.9 L1032.6,783.8 M1032.6,783.8 L1041.2,788.6 M1041.2,788.6 L1049.8,793.5 M1049.8,793.5 L1058.5,798.4 M1058.5,798.4 L1067.1,803.3 M1067.1,803.3 L1075.7,808.1 M1075.7,808.1 L1084.3,813 M1084.3,813 L1092.9,817.9 M1092.9,817.9 L1101.5,822.8 M1101.5,822.8 L1110.2,827.6 M1110.2,827.6 L1118.8,832.5 M1118.8,832.5 L1127.4,837.4 M1127.4,837.4 L1136,842.3 M1136,842.3 L1144.6,847.1 M1144.6,847.1 L1153.2,852 M1153.2,852 L1161.8,856.9 M1161.8,856.9 L1170.5,861.8 M1170.5,861.8 L1179.1,866.7 M1179.1,866.7 L1187.7,871.5 M1187.7,871.5 L1196.3,876.4 M1196.3,876.4 L1204.9,881.3 M1204.9,881.3 L1213.5,886.2 M1213.5,886.2 L1222.2,891 M1222.2,891 L1230.8,895.9 M1230.8,895.9 L1239.4,900.8 M1239.4,900.8 L1248,905.7 M1248,905.7 L1256.6,910.5 M1256.6,910.5 L1265.2,915.4 M1265.2,915.4 L1273.9,920.3 M1273.9,920.3 L1282.5,925.2 M1282.5,925.2 L1291.1,930 M1291.1,930 L1299.7,934.9 M1299.7,934.9 L1308.3,939.8 M1308.3,939.8 L1316.9,944.7 M1316.9,944.7 L1325.6,949.5 M1325.6,949.5 L1334.2,954.4 M1334.2,954.4 L1342.8,959.3 M1342.8,959.3 L1351.4,964.2 M1351.4,964.2 L1360,969 M1360,969 L1368.6,973.9 M1368.6,973.9 L1377.3,978.8 M1377.3,978.8 L1385.9,983.7 M1385.9,983.7 L1394.5,988.5 M1394.5,988.5 L1403.1,993.4 M1403.1,993.4 L1411.7,998.3 M1411.7,998.3 L1420.3,1003.2 M1420.3,1003.2 L1428.9,1008 M1428.9,1008 L1437.6,1012.9 " stroke-width="1.8"/>
</g>
<path d="M880,648 L1478,986.4" stroke-width="3.8"/>
<path d="M747.7,644 L1440,1042 L1458,1052" stroke-width="7"/>
<path d="M745,641 L767,630 L752,644" stroke-width="2.4"/>
<path d="M1478,986.4 C1479.3,988 1483.9,992.9 1486,996 C1488.1,999.1 1489.8,1003.3 1490.6,1004.8" stroke-width="3"/>
<path d="M1490.6,1004.8 C1489.2,1005 1485.6,1004.1 1482,1006.3 C1478.4,1008.5 1472.4,1013.6 1469,1017.9 C1465.6,1022.2 1462.9,1028 1461.7,1032.3 C1460.5,1036.6 1461.9,1041 1461.7,1043.9 C1461.5,1046.8 1462.5,1048.7 1460.3,1049.7 C1458.1,1050.7 1450.6,1049.7 1448.7,1049.7" stroke-width="3"/>
<path d="M1466,982 C1464.2,983.7 1458.3,987.7 1455,992 C1451.7,996.3 1448.2,1002 1446,1008 C1443.8,1014 1442.3,1021.7 1442,1028 C1441.7,1034.3 1443.7,1043 1444,1046" stroke-width="1.8"/>
<path d="M1450,1019.3 L1458.8,1021.5" stroke-width="2"/>
<path d="M1447.2,1030.9 L1457.4,1034.5" stroke-width="2"/>
<path d="M1489.2,1007.7 L1613.6,1075.7" stroke-width="3.4"/>
<path d="M1463.1,1048.2 L1674.4,1165.4" stroke-width="3.4"/>
<path d="M1474.7,1043.9 L1652.7,1145.2" stroke-width="1.8"/>
<path d="M846,607 L877,647" stroke-width="2"/>
<path d="M856,604 L886,645" stroke-width="2.6"/>
<path d="M946,760 L1282.5,1242.5" stroke-width="2"/>
<path d="M967,772 L1291,1235" stroke-width="3.2"/>
<path d="M1291,1235 C1290.8,1235.6 1291.8,1237.1 1290,1238.8 C1288.2,1240.4 1282.5,1238.5 1280,1245 C1277.5,1251.5 1274.6,1269.8 1275,1277.5 C1275.4,1285.2 1278.8,1289.6 1282.5,1291 C1286.2,1292.4 1291.2,1287.4 1297.5,1286 C1303.8,1284.6 1315,1281 1320,1282.5 C1325,1284 1328.3,1288.8 1327.5,1295 C1326.7,1301.2 1315.8,1314.2 1315,1320 C1314.2,1325.8 1317.9,1327.9 1322.5,1330 C1327.1,1332.1 1337.5,1330.4 1342.5,1332.5 C1347.5,1334.6 1351.2,1338.3 1352.5,1342.5 C1353.8,1346.7 1347.5,1353.6 1350,1357.5 C1352.5,1361.4 1363.3,1366.4 1367.5,1366 C1371.7,1365.6 1371.7,1359.3 1375,1355 C1378.3,1350.7 1383.3,1340.8 1387.5,1340 C1391.7,1339.2 1396.7,1346.7 1400,1350 C1403.3,1353.3 1405.8,1363.3 1407.5,1360 C1409.2,1356.7 1410,1335.4 1410,1330 C1410,1324.6 1407.9,1327.9 1407.5,1327.5" stroke-width="2.8"/>
<path d="M1281,1276 C1282.2,1277.3 1285.3,1282.2 1288,1284 C1290.7,1285.8 1295.5,1286.5 1297,1287" stroke-width="1.6"/>
<path d="M1320,1287 C1320.3,1289.2 1322.3,1294.8 1322,1300 C1321.7,1305.2 1318.7,1315 1318,1318" stroke-width="1.6"/>
<path d="M1342,1336 C1343.2,1337.3 1347.3,1340.8 1349,1344 C1350.7,1347.2 1351.5,1353.2 1352,1355" stroke-width="1.6"/>
<path d="M1410,1327.5 L1719,1230" stroke-width="3.2"/>
<path d="M1295,1400 L1739,1260" stroke-width="3.2"/>
<path d="M1292.5,1405 C1293.3,1409.6 1297.9,1426.7 1297.5,1432.5 C1297.1,1438.3 1292.9,1440.4 1290,1440 C1287.1,1439.6 1282.9,1434.6 1280,1430 C1277.1,1425.4 1275.8,1414.6 1272.5,1412.5 C1269.2,1410.4 1262.9,1413.8 1260,1417.5 C1257.1,1421.2 1257.1,1430.8 1255,1435 C1252.9,1439.2 1250.4,1444.2 1247.5,1442.5 C1244.6,1440.8 1241.7,1427.5 1237.5,1425 C1233.3,1422.5 1225.4,1425 1222.5,1427.5 C1219.6,1430 1218.8,1435.4 1220,1440 C1221.2,1444.6 1229.6,1450.8 1230,1455 C1230.4,1459.2 1225,1462.5 1222.5,1465 C1220,1467.5 1216.2,1469.2 1215,1470" stroke-width="2.8"/>
<path d="M1175,1332.5 C1172.5,1335.8 1161.7,1345.8 1160,1352.5 C1158.3,1359.2 1160,1367.9 1165,1372.5 C1170,1377.1 1183.8,1377.9 1190,1380 C1196.2,1382.1 1200,1382.5 1202.5,1385 C1205,1387.5 1205.8,1390 1205,1395 C1204.2,1400 1198.3,1410 1197.5,1415 C1196.7,1420 1196.2,1421.7 1200,1425 C1203.8,1428.3 1216.7,1433.3 1220,1435" stroke-width="2.8"/>
<path d="M1207.5,1382.5 L1280,1342.5" stroke-width="2.8"/>
<path d="M1280,1342.5 C1281.3,1342.9 1285.9,1342.9 1288,1345 C1290.1,1347.1 1291.3,1351.7 1292.5,1355 C1293.7,1358.3 1294.6,1363.3 1295,1365" stroke-width="2.8"/>
<path d="M1295,1365 L1200,1420" stroke-width="3.4"/>
<path d="M1210,1400 L1282.5,1360" stroke-width="1.6"/>
<path d="M1357.5,1132.5 C1360.8,1135.8 1372.5,1143.8 1377.5,1152.5 C1382.5,1161.2 1386.2,1171.2 1387.5,1185 C1388.8,1198.8 1387.9,1219.2 1385,1235 C1382.1,1250.8 1375.4,1265.8 1370,1280 C1364.6,1294.2 1356.2,1311.2 1352.5,1320 C1348.8,1328.8 1348.3,1330.4 1347.5,1332.5" stroke-width="2.8"/>
<path d="M1375,1152.5 C1373.8,1157.9 1372.9,1171.2 1367.5,1185 C1362.1,1198.8 1350,1219.6 1342.5,1235 C1335,1250.4 1326.2,1269.2 1322.5,1277.5 C1318.8,1285.8 1320.4,1283.8 1320,1285" stroke-width="2.8"/>
<path d="M1591.9,1119.1 C1591.2,1122.7 1588.8,1133.6 1587.6,1140.8 C1586.4,1148 1586.4,1156.5 1584.7,1162.5 C1583,1168.5 1581.8,1171.9 1577.4,1177 C1573.1,1182.1 1564.4,1189.5 1558.6,1192.9 C1552.8,1196.3 1545.3,1196.5 1542.7,1197.2" stroke-width="3"/>
<path d="M837.5,1420 C837.9,1418.3 837.5,1412.3 840,1410 C842.5,1407.7 848.8,1406.8 852.5,1406 C856.2,1405.2 860.8,1405.2 862.5,1405" stroke-width="3"/>
<path d="M862.5,1407.5 L907.5,1432.5" stroke-width="2.6"/>
<path d="M860,1411 L906,1436" stroke-width="1.6"/>
<path d="M837.5,1420 L837.5,1465 L842.5,1470 L905,1502.5" stroke-width="2.8"/>
<path d="M906,1435 L906,1502.5" stroke-width="2.6"/>
<path d="M907.5,1432.5 C916.2,1430 941.2,1422.1 960,1417.5 C978.8,1412.9 1002.5,1407.3 1020,1405 C1037.5,1402.7 1048.3,1402.9 1065,1403.8 C1081.7,1404.6 1106.7,1406.5 1120,1410 C1133.3,1413.5 1128.3,1416.2 1145,1425 C1161.7,1433.8 1195,1448.8 1220,1462.5 C1245,1476.2 1275.4,1493.8 1295,1507.5 C1314.6,1521.2 1328.3,1536.2 1337.5,1545 C1346.7,1553.8 1347.9,1557.5 1350,1560" stroke-width="3"/>
<path d="M1027.5,1396 C1034.6,1396.5 1052.9,1395.6 1070,1398.8 C1087.1,1401.9 1103.3,1404.8 1130,1415 C1156.7,1425.2 1201.7,1445.8 1230,1460 C1258.3,1474.2 1280.8,1487.5 1300,1500 C1319.2,1512.5 1335.3,1526.3 1345,1535 C1354.7,1543.7 1355.8,1549.2 1358,1552" stroke-width="2.2"/>
<path d="M892.5,1420 L1035,1337.5" stroke-width="2.2"/>
<path d="M1065,1406 L1066,1514" stroke-width="2.4"/>
<path d="M905,1503.8 L1062.5,1515 L1345,1677.5" stroke-width="2.8"/>
<path d="M1342.5,1568.8 L1345,1677.5 L1357.5,1717" stroke-width="2.6"/>
<path d="M1300,1652.5 L1345,1678.8" stroke-width="2.4"/>
<path d="M1020,1400 C1021.2,1397.9 1022.5,1390.2 1027.5,1387.5 C1032.5,1384.8 1042.9,1382.9 1050,1383.8 C1057.1,1384.6 1066.2,1390.2 1070,1392.5 C1073.8,1394.8 1072.1,1396.7 1072.5,1397.5" stroke-width="2.6"/>
<path d="M1300,1512.5 C1305,1515.8 1322.7,1524.2 1330,1532.5 C1337.3,1540.8 1338.8,1547.9 1343.8,1562.5 C1348.8,1577.1 1355.3,1600.4 1360,1620 C1364.7,1639.6 1368.7,1664.7 1372,1680 C1375.3,1695.3 1378.7,1706.7 1380,1712" stroke-width="2.4"/>
<path d="M1300,1520 C1306.7,1525.8 1331.2,1547.5 1340,1555 C1348.8,1562.5 1347.9,1553.8 1352.5,1565 C1357.1,1576.2 1362.6,1601.7 1367.5,1622.5 C1372.4,1643.3 1378.7,1675.8 1382,1690 C1385.3,1704.2 1386.6,1704.6 1387.5,1707.5" stroke-width="2.4"/>
<path d="M1345,1580 L1345,1677.5 L1375,1770" stroke-width="2.6"/>
<path d="M1250,1625 L1345,1677.5" stroke-width="2.8"/>
<path d="M1377.5,1715 L1375,1770 L1440,1807.5" stroke-width="2.8"/>
<path d="M1377.5,1715 L1437.5,1735" stroke-width="2.6"/>
<path d="M1437.5,1735 C1439.1,1736 1444.9,1738.2 1447,1741 C1449.1,1743.8 1449.5,1742.2 1450,1752 C1450.5,1761.8 1450,1792 1450,1800" stroke-width="2.6"/>
<path d="M1387.5,1710 L1442,1728" stroke-width="1.8"/>
<path d="M1442,1728 C1444,1729.5 1451.5,1733 1454,1737 C1456.5,1741 1456.8,1742.2 1457,1752 C1457.2,1761.8 1455.3,1788.7 1455,1796" stroke-width="1.8"/>
<path d="M1440,1750 L1442.5,1807.5" stroke-width="2.4"/>
<path d="M1445,1807.5 L1737.5,1630" stroke-width="3"/>
<path d="M1452,1796 L1730,1626" stroke-width="2.2"/>
<path d="M1730,1626 C1730,1617.9 1730.8,1587.2 1730,1577.5 C1729.2,1567.8 1728,1570.4 1725,1567.5 C1722,1564.6 1730.8,1570 1712,1560 C1693.2,1550 1629.1,1516.2 1612.5,1507.5" stroke-width="3"/>
<path d="M1741,1630 C1740.8,1621.2 1741,1588.5 1740,1577.5 C1739,1566.5 1737.2,1567.2 1735,1564 C1732.8,1560.8 1745.8,1567.8 1727,1558 C1708.2,1548.2 1639.9,1513.8 1622.5,1505" stroke-width="2.4"/>
<path d="M1470,1552.5 L1505,1572.5 L1670,1587.5 L1730,1626" stroke-width="2.6"/>
<path d="M1506,1540 L1506,1572.5" stroke-width="2.4"/>
<path d="M1675,1542.5 L1672.5,1587.5" stroke-width="2.4"/>
<ellipse cx="1530" cy="1676" rx="26" ry="17.5" transform="rotate(0 1530 1676)" stroke-width="3"/>
<path d="M1508,1676 C1510,1675 1516.3,1671.2 1520,1670 C1523.7,1668.8 1525,1668.7 1530,1669 C1535,1669.3 1546.7,1671.5 1550,1672" stroke-width="2.4"/>
<path d="M1102.5,1430 L1107.5,1425 L1130,1427.5 L1152.5,1450 L1152.5,1472.5 L1140,1477.5 L1120,1478.8 L1103.8,1462.5 L1102.5,1430" stroke-width="2.6"/>
<path d="M1130,1430 L1140,1452.5 L1152.5,1450" stroke-width="2"/>
<path d="M1140,1452.5 L1141,1476" stroke-width="2"/>
<path d="M1242.5,1512.5 L1260,1508.8 L1292.5,1533.8 L1292.5,1555 L1280,1557.5 L1255,1560 L1242.5,1545 L1242.5,1512.5" stroke-width="2.6"/>
<path d="M1262.5,1512.5 L1277.5,1537.5 L1292.5,1533.8" stroke-width="2"/>
<path d="M1277.5,1537.5 L1278,1556" stroke-width="2"/>
<path d="M734,1332 C748.3,1329.8 793.2,1319.5 820,1318.8 C846.8,1318 875,1321.5 895,1327.5 C915,1333.5 928.8,1345.8 940,1355 C951.2,1364.2 958.8,1377.9 962.5,1382.5" stroke-width="3"/>
<path d="M987.5,1602.5 C995,1600.4 1018.8,1598.8 1032.5,1590 C1046.2,1581.2 1059.6,1564.2 1070,1550 C1080.4,1535.8 1086.7,1519.6 1095,1505 C1103.3,1490.4 1115.8,1469.6 1120,1462.5" stroke-width="3"/>
<path d="M1007.5,1688.8 C1015.8,1686.5 1040.8,1684.4 1057.5,1675 C1074.2,1665.6 1094.6,1645.4 1107.5,1632.5 C1120.4,1619.6 1130.4,1603.3 1135,1597.5" stroke-width="3"/>
<path d="M1122.5,1590 C1123,1585.8 1130.8,1576.2 1135,1572 C1139.2,1567.8 1143.8,1565.3 1147.5,1565 C1151.2,1564.7 1157.1,1565.8 1157.5,1570 C1157.9,1574.2 1151.7,1584.6 1150,1590 C1148.3,1595.4 1150.5,1601.3 1147.5,1602.5 C1144.5,1603.7 1136.2,1599.1 1132,1597 C1127.8,1594.9 1122,1594.2 1122.5,1590 Z" fill="#000" stroke="none"/>
<path d="M1210,1692.5 C1213.8,1690.4 1226.7,1689.2 1232.5,1680 C1238.3,1670.8 1242.1,1653.8 1245,1637.5 C1247.9,1621.2 1247.1,1597.9 1250,1582.5 C1252.9,1567.1 1260.4,1551.2 1262.5,1545" stroke-width="3"/>
<path d="M1605,1657.5 C1614.6,1660 1644.6,1665.8 1662.5,1672.5 C1680.4,1679.2 1694.2,1685 1712.5,1697.5 C1730.8,1710 1762.5,1739.2 1772.5,1747.5" stroke-width="3"/>
<path d="M1661,1456 C1665.8,1460.8 1679.3,1476 1690,1485 C1700.7,1494 1706.7,1500.4 1725,1510 C1743.3,1519.6 1778.7,1534.4 1800,1542.5 C1821.3,1550.6 1828,1553.8 1853,1558.8 C1878,1563.7 1933.8,1569.8 1950,1572" stroke-width="3"/>
<path d="M702,1115 C715,1112.5 757.8,1107.5 780,1100 C802.2,1092.5 820.5,1082.2 835,1070 C849.5,1057.8 861.7,1034.2 867,1027" stroke-width="3"/>
<path d="M186,1041 C205,1040.8 261,1043.5 300,1040 C339,1036.5 380,1029.2 420,1020 C460,1010.8 520,990.8 540,985" stroke-width="3"/>
<path d="M530,957 L600,954 L545,992 Z" fill="#000" stroke="none"/>
<path d="M426,182 C430.8,185.8 448.3,193.7 455,205 C461.7,216.3 465.2,235.8 466,250 C466.8,264.2 463.5,276.7 460,290 C456.5,303.3 449.7,319.7 445,330 C440.3,340.3 434.2,348.3 432,352" stroke-width="3"/>
<path d="M427,330 L452,342 L419,374 Z" fill="#000" stroke="none"/>
<path d="M902,185 C914.2,189.2 953.7,197.5 975,210 C996.3,222.5 1018,241.7 1030,260 C1042,278.3 1044.2,310 1047,320" stroke-width="3"/>
<path d="M676,305 C683.3,305.7 703.8,305.3 720,309 C736.2,312.7 758,319 773,327 C788,335 802,345 810,357 C818,369 819.2,392 821,399" stroke-width="3"/>
<path d="M337,534 C351.7,531.2 404.2,523.7 425,517 C445.8,510.3 454.5,499.5 462,494 C469.5,488.5 468.7,485.7 470,484" stroke-width="3"/>
<path d="M410,697 C421.7,695 460,692.8 480,685 C500,677.2 517.3,662.3 530,650 C542.7,637.7 551.7,617.5 556,611" stroke-width="3"/>
</g></svg></body></html>
